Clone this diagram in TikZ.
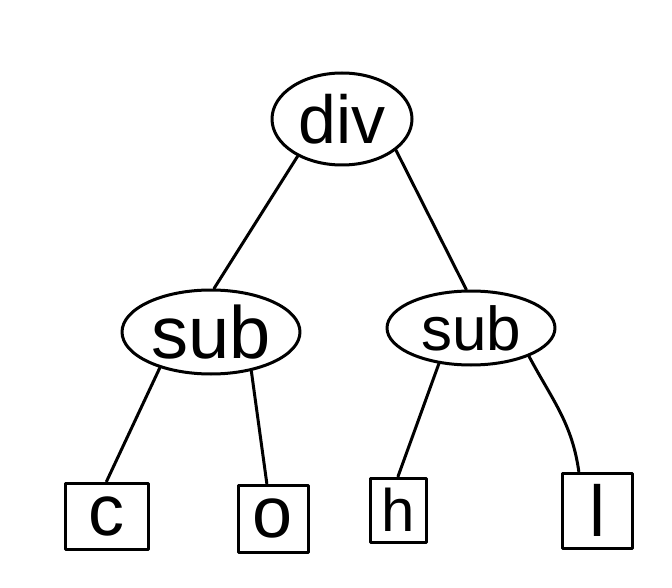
\documentclass[tikz,border=0pt]{standalone}
\usepackage{fontspec}
\setmainfont{Liberation Sans}
\usetikzlibrary{shapes.geometric}
\tikzset{
  ink/.style={line width=3pt, line join=round, line cap=round, draw=black},
  opnode/.style={ink, ellipse, inner sep=0pt},
  leafbox/.style={ink, rectangle, inner sep=0pt},
  edge/.style={ink}
}
\newcommand{\bigfont}[1]{\fontsize{#1}{#1}\selectfont}
\begin{document}
\begin{tikzpicture}[x=1pt,y=-1pt]
\useasboundingbox (0,0) rectangle (672,588);
\node[opnode, minimum width=140pt, minimum height=92pt] (div) at (342,119) {\bigfont{68}div};
\node[opnode, minimum width=178pt, minimum height=84pt] (subL) at (211,332) {\bigfont{74}sub};
\node[opnode, minimum width=168pt, minimum height=74pt] (subR) at (471,328) {\bigfont{62}sub};
\node[leafbox, minimum width=83pt, minimum height=66pt] (c) at (106.5,516) {\bigfont{72}c};
\node[leafbox, minimum width=70pt, minimum height=67pt] (o) at (273,518.5) {\bigfont{72}o};
\node[leafbox, minimum width=56pt, minimum height=64pt] (h) at (398,510) {\bigfont{60}h};
\node[leafbox, minimum width=70pt, minimum height=75pt] (l) at (597,510.5) {\bigfont{72}l};
\draw[edge] (div.220) -- (subL.86);
\draw[edge] (div.330) -- (subR.97);
\draw[edge] (subL.215) -- (c.north);
\draw[edge] (subL.316) -- (o.100);
\draw[edge] (subR.228) -- (h.north);
\draw[edge] (subR.334) to[out=-62, in=98] (l.115);
\end{tikzpicture}
\end{document}
